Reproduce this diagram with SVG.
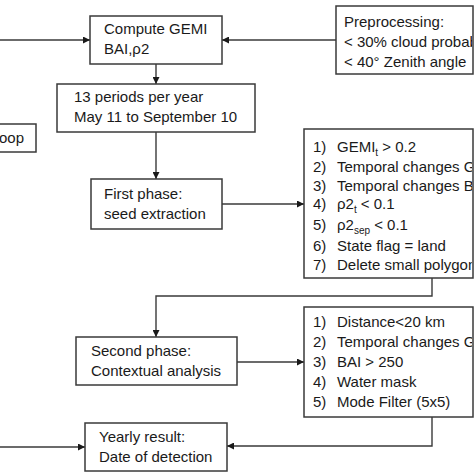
<svg xmlns="http://www.w3.org/2000/svg" width="474" height="474" viewBox="0 0 474 474">
<style>
.box{fill:#fff;stroke:#3a3a3a;stroke-width:1.5}
.t{font-family:"Liberation Sans",Arial,sans-serif;font-size:15px;fill:#1a1a1a}
.sub{font-size:10px}
.ln{fill:none;stroke:#3a3a3a;stroke-width:1.4}
.arr{marker-end:url(#ah)}
</style>
<defs>
<marker id="ah" viewBox="0 0 10 10" refX="10" refY="5" markerWidth="7" markerHeight="7" markerUnits="userSpaceOnUse" orient="auto">
<path d="M0,0 L10,5 L0,10 z" fill="#1a1a1a"/>
</marker>
<clipPath id="cr"><rect x="0" y="0" width="472" height="474"/></clipPath>
</defs>
<rect width="474" height="474" fill="#fff"/>
<g id="connectors">
<path class="ln arr" d="M0,40 H90"/>
<path class="ln arr" d="M336,40 H222"/>
<path class="ln arr" d="M156,64 V84"/>
<path class="ln arr" d="M156,132 V179"/>
<path class="ln arr" d="M222,204 H304"/>
<path class="ln arr" d="M432,278 V296 H156 V337"/>
<path class="ln arr" d="M237,362 H304"/>
<path class="ln arr" d="M432,417 V446 H227"/>
<path class="ln arr" d="M0,447 H85"/>
</g>
<g id="compute">
<rect class="box" x="90" y="16" width="132" height="48"/>
<text class="t" x="104" y="34">Compute GEMI</text>
<text class="t" x="104" y="54">BAI,ρ2</text>
</g>
<g id="preprocessing">
<rect class="box" x="336" y="6" width="137" height="68"/>
<g clip-path="url(#cr)">
<text class="t" x="344" y="27">Preprocessing:</text>
<text class="t" x="344" y="47">&lt; 30% cloud probability</text>
<text class="t" x="344" y="67">&lt; 40° Zenith angle</text>
</g>
</g>
<g id="periods">
<rect class="box" x="57" y="84" width="198" height="48"/>
<text class="t" x="74" y="102">13 periods per year</text>
<text class="t" x="74" y="122">May 11 to September 10</text>
</g>
<g id="loop">
<rect class="box" x="-60" y="124" width="96" height="28"/>
<text class="t" x="24" y="143" text-anchor="end">oop</text>
</g>
<g id="first-phase">
<rect class="box" x="91" y="179" width="131" height="50"/>
<text class="t" x="104" y="199">First phase:</text>
<text class="t" x="104" y="219">seed extraction</text>
</g>
<g id="criteria-1">
<rect class="box" x="304" y="129" width="169" height="149"/>
<g clip-path="url(#cr)">
<text class="t" x="313" y="152">1)</text>
<text class="t" x="337" y="152">GEMI<tspan class="sub" dy="4">t</tspan><tspan dy="-4"> &gt; 0.2</tspan></text>
<text class="t" x="313" y="172">2)</text>
<text class="t" x="337" y="172">Temporal changes GEMI</text>
<text class="t" x="313" y="191">3)</text>
<text class="t" x="337" y="191">Temporal changes BAI</text>
<text class="t" x="313" y="209">4)</text>
<text class="t" x="337" y="209">ρ2<tspan class="sub" dy="4">t</tspan><tspan dy="-4"> &lt; 0.1</tspan></text>
<text class="t" x="313" y="230">5)</text>
<text class="t" x="337" y="230">ρ2<tspan class="sub" dy="4">sep</tspan><tspan dy="-4"> &lt; 0.1</tspan></text>
<text class="t" x="313" y="251">6)</text>
<text class="t" x="337" y="251">State flag = land</text>
<text class="t" x="313" y="270">7)</text>
<text class="t" x="337" y="270">Delete small polygons</text>
</g>
</g>
<g id="second-phase">
<rect class="box" x="76" y="337" width="161" height="48"/>
<text class="t" x="91" y="356">Second phase:</text>
<text class="t" x="91" y="376">Contextual analysis</text>
</g>
<g id="criteria-2">
<rect class="box" x="304" y="307" width="169" height="110"/>
<g clip-path="url(#cr)">
<text class="t" x="313" y="327">1)</text>
<text class="t" x="337" y="327">Distance&lt;20 km</text>
<text class="t" x="313" y="347">2)</text>
<text class="t" x="337" y="347">Temporal changes GEMI</text>
<text class="t" x="313" y="367">3)</text>
<text class="t" x="337" y="367">BAI &gt; 250</text>
<text class="t" x="313" y="387">4)</text>
<text class="t" x="337" y="387">Water mask</text>
<text class="t" x="313" y="407">5)</text>
<text class="t" x="337" y="407">Mode Filter (5x5)</text>
</g>
</g>
<g id="yearly">
<rect class="box" x="85" y="423" width="142" height="48"/>
<text class="t" x="99" y="442">Yearly result:</text>
<text class="t" x="99" y="462">Date of detection</text>
</g>
</svg>
